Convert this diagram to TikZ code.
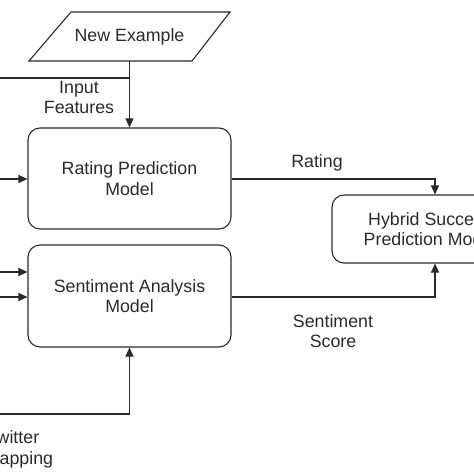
\documentclass[tikz,border=0pt]{standalone}
\usepackage{fontspec}
\setmainfont{Liberation Sans}
\usetikzlibrary{arrows.meta,calc}
\definecolor{ink}{HTML}{2A2A2A}
\begin{document}
\begin{tikzpicture}[x=1pt,y=-1pt,
  line/.style={draw=ink,line width=1.1pt},
  arr/.style={line,-{Triangle[length=9pt,width=8pt]}},
  box/.style={draw=ink,line width=1.1pt,rounded corners=12pt,align=center,inner sep=0pt},
  lbl/.style={align=center,text=ink,inner sep=0pt,font=\fontsize{17.8}{20.5}\selectfont},
  every node/.style={font=\fontsize{17.8}{20.5}\selectfont,text=ink}]
\useasboundingbox (0,0) rectangle (474,474);
\clip (0,0) rectangle (474,474);
% parallelogram
\draw[line] (71,12) -- (230,12) -- (192,61) -- (29,61) -- cycle;
\node[minimum width=120pt,minimum height=49pt,inner sep=0pt] (new) at (129.5,36.5) {New Example};
\node[box,minimum width=203pt,minimum height=101pt] (rating) at (129.5,178.5) {Rating Prediction\\Model};
\node[box,minimum width=203pt,minimum height=102pt] (sent) at (129.5,296) {Sentiment Analysis\\Model};
\node[box,minimum width=196pt,minimum height=68pt] (hyb) at (430,229) {Hybrid Success\\Prediction Model};
% connectors
\coordinate (j1) at (129.5,78);
\coordinate (inL) at (0,78);
\coordinate (rl) at (0,179);
\coordinate (s1) at (0,272);
\coordinate (s2) at (0,297);
\coordinate (tw) at (0,414);
\draw[arr] (new.south) -- (rating.north);
\draw[line] (inL) -- (j1);
\draw[arr] (rl) -- (rl -| rating.west);
\draw[arr] (s1) -- (s1 -| sent.west);
\draw[arr] (s2) -- (s2 -| sent.west);
\draw[arr] (tw) -| (sent.south);
\coordinate (re) at (rating.east |- rl);
\coordinate (se) at (sent.east |- s2);
\draw[arr] (re) -| ([xshift=5pt]hyb.north);
\draw[arr] (se) -| ([xshift=5pt]hyb.south);
% labels
\node[lbl] (lin) at (79,97.5) {Input\\Features};
\node[lbl] (lra) at (317,163) {Rating};
\node[lbl] (lss) at (333,331) {Sentiment\\Score};
\node[lbl] (ltw) at (13,449.5) {Twitter\\Scrapping};
\end{tikzpicture}
\end{document}
